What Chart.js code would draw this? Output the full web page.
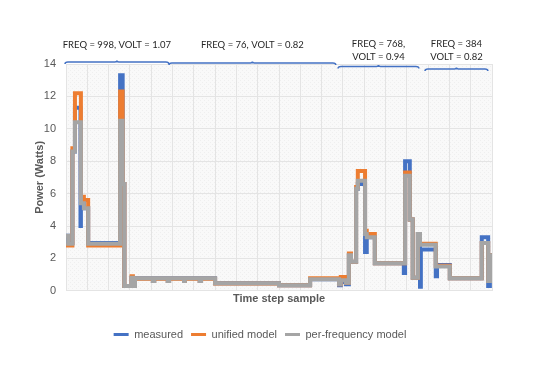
<!DOCTYPE html>
<html>
<head>
<meta charset="utf-8">
<script src="https://cdn.jsdelivr.net/npm/chart.js@4.4.1/dist/chart.umd.min.js"></script>
<style>
  html, body { margin: 0; padding: 0; background: #fff; }
  #wrap { width: 545px; height: 385px; }
</style>
</head>
<body>
<div id="wrap"><canvas id="powerChart" width="545" height="385"></canvas></div>
<script>
// time step where each level starts (step line holds value until next step)
const steps = [0, 5, 15, 21, 34, 35, 42, 52, 127, 133, 137, 154, 157, 162, 204, 207, 239, 242, 277, 279,
    314, 317, 350, 500, 573, 641, 645, 657, 664, 669, 681, 685, 702, 706, 725, 793, 796, 807, 814, 826,
    831, 833, 868, 871, 901, 976, 991, 995, 999, 1000];

const measured = [3.4, 2.95, 8.6, 11.3, 4.0, 5.4, 5.1, 2.95, 13.3, 6.6, 0.3, 0.8, 0.3, 0.78, 0.6, 0.78, 0.6, 0.78, 0.6, 0.78,
    0.6, 0.78, 0.47, 0.35, 0.72, 0.35, 0.55, 0.4, 2.2, 1.8, 6.3, 6.6, 2.4, 3.3, 1.7, 1.1, 8.0, 4.4, 0.8, 3.5,
    0.25, 2.55, 0.9, 1.6, 0.78, 3.3, 0.3, 2.2, 0.6, 0.6];

const unified = [2.8, 2.8, 8.8, 12.2, 12.2, 5.8, 5.6, 2.8, 12.3, 6.6, 0.3, 0.9, 0.3, 0.75, 0.6, 0.75, 0.6, 0.75, 0.6, 0.75,
    0.6, 0.75, 0.45, 0.35, 0.77, 0.4, 0.85, 0.5, 2.3, 1.8, 6.4, 7.4, 3.7, 3.5, 1.7, 1.7, 7.3, 4.4, 0.8, 3.5,
    2.9, 2.9, 1.55, 1.55, 0.78, 2.95, 0.6, 2.2, 0.6, 0.6];

const perFrequency = [3.4, 2.9, 8.6, 10.4, 10.4, 5.4, 5.1, 2.9, 10.5, 6.6, 0.3, 0.8, 0.3, 0.78, 0.6, 0.78, 0.6, 0.78, 0.6, 0.78,
    0.6, 0.78, 0.47, 0.35, 0.72, 0.4, 0.65, 0.5, 2.2, 1.8, 6.3, 6.8, 3.5, 3.3, 1.7, 1.7, 7.1, 4.4, 0.8, 3.5,
    2.85, 2.85, 1.5, 1.5, 0.78, 2.95, 0.6, 2.2, 0.6, 0.6];

// operating phases (time step ranges) annotated above the plot
const phaseStart = [0, 244, 641, 845];
const phaseEnd = [239, 631, 826, 988];
const phaseLabels = [
    ['FREQ = 998, VOLT = 1.07'],
    ['FREQ = 76, VOLT = 0.82'],
    ['FREQ = 768,', 'VOLT = 0.94'],
    ['FREQ = 384', 'VOLT = 0.82']
];

const toPoints = (vals) => steps.map((s, i) => ({ x: s, y: vals[i] }));

// faint hatched plot background like the original
const hatch = document.createElement('canvas');
hatch.width = 4; hatch.height = 4;
const hctx = hatch.getContext('2d');
hctx.fillStyle = '#f9f9f9';
hctx.fillRect(0, 0, 4, 4);
hctx.fillStyle = '#efefef';
hctx.fillRect(0, 0, 1, 1);
hctx.fillRect(2, 2, 1, 1);

const plotBackground = {
    id: 'plotBackground',
    beforeDraw(chart) {
        const { ctx, chartArea: a } = chart;
        ctx.save();
        ctx.fillStyle = ctx.createPattern(hatch, 'repeat');
        ctx.fillRect(a.left, a.top, a.right - a.left, a.bottom - a.top);
        ctx.restore();
    }
};

// braces + labels for the frequency/voltage phases
const yOffsets = [-2, -1, 2.5, 5];
const phaseBraces = {
    id: 'phaseBraces',
    afterDraw(chart) {
        const { ctx, chartArea } = chart;
        const xs = chart.scales.x;
        ctx.save();
        for (let i = 0; i < phaseStart.length; i++) {
            const x0 = xs.getPixelForValue(phaseStart[i]);
            const x1 = xs.getPixelForValue(phaseEnd[i]);
            const xc = (x0 + x1) / 2;
            const y = chartArea.top + yOffsets[i];
            ctx.strokeStyle = '#4472c4';
            ctx.lineWidth = 1.5;
            ctx.beginPath();
            ctx.moveTo(x0 - 1, y + 2);
            ctx.quadraticCurveTo(x0 - 1, y, x0 + 2, y);
            ctx.lineTo(xc - 2, y);
            ctx.quadraticCurveTo(xc, y, xc, y - 1.5);
            ctx.quadraticCurveTo(xc, y, xc + 2, y);
            ctx.lineTo(x1 - 2, y);
            ctx.quadraticCurveTo(x1 + 1, y, x1 + 1, y + 2);
            ctx.stroke();

            const lines = phaseLabels[i];
            ctx.fillStyle = '#262626';
            ctx.font = '9.5px Lato, "Open Sans", sans-serif';
            ctx.textAlign = 'center';
            ctx.textBaseline = 'middle';
            if (lines.length === 1) {
                ctx.fillText(lines[0], xc, 45);
            } else {
                ctx.fillText(lines[0], xc, 44);
                ctx.fillText(lines[1], xc, 56.5);
            }
        }
        ctx.restore();
    }
};

const ctx = document.getElementById('powerChart').getContext('2d');
const powerChart = new Chart(ctx, {
    type: 'line',
    data: {
        datasets: [{
            label: 'measured',
            data: toPoints(measured),
            borderColor: '#4472c4',
            backgroundColor: '#4472c4',
            borderWidth: 4,
            order: 3
        }, {
            label: 'unified model',
            data: toPoints(unified),
            borderColor: '#ed7d31',
            backgroundColor: '#ed7d31',
            borderWidth: 4,
            order: 2
        }, {
            label: 'per-frequency model',
            data: toPoints(perFrequency),
            borderColor: '#a5a5a5',
            backgroundColor: '#a5a5a5',
            borderWidth: 4,
            order: 1
        }]
    },
    options: {
        responsive: false,
        animation: false,
        devicePixelRatio: 1,
        layout: { padding: { left: 28, right: 53, top: 64, bottom: 35 } },
        elements: {
            point: { radius: 0 },
            line: { stepped: true, tension: 0 }
        },
        scales: {
            x: {
                type: 'linear',
                min: 0,
                max: 1000,
                ticks: { display: false, stepSize: 50 },
                grid: { color: '#e4e4e4', drawTicks: false },
                border: { color: '#e4e4e4' },
                title: {
                    display: true,
                    text: 'Time step sample',
                    color: '#595959',
                    font: { family: '"Liberation Sans", Arial, sans-serif', size: 11, weight: 'bold' },
                    padding: { top: 2, bottom: 15 }
                }
            },
            y: {
                min: 0,
                max: 14,
                ticks: {
                    stepSize: 2,
                    padding: 10,
                    color: '#595959',
                    font: { family: '"Liberation Sans", Arial, sans-serif', size: 11 }
                },
                grid: { color: '#e4e4e4', drawTicks: false },
                border: { color: '#e4e4e4' },
                title: {
                    display: true,
                    text: 'Power (Watts)',
                    color: '#595959',
                    font: { family: '"Liberation Sans", Arial, sans-serif', size: 11, weight: 'bold' },
                    padding: { top: 5, bottom: 0 }
                },
                afterFit(scale) { scale.width = 38; }
            }
        },
        plugins: {
            legend: {
                position: 'bottom',
                labels: {
                    usePointStyle: true,
                    pointStyle: 'line',
                    pointStyleWidth: 15,
                    boxHeight: 11,
                    padding: 8,
                    color: '#595959',
                    font: { family: '"Liberation Sans", Arial, sans-serif', size: 11 },
                    sort: (a, b) => a.datasetIndex - b.datasetIndex,
                    generateLabels(chart) {
                        const items = Chart.defaults.plugins.legend.labels.generateLabels(chart);
                        items.forEach(it => { it.lineWidth = 3; });
                        return items;
                    }
                }
            },
            tooltip: { enabled: false }
        }
    },
    plugins: [plotBackground, phaseBraces]
});
</script>
</body>
</html>
